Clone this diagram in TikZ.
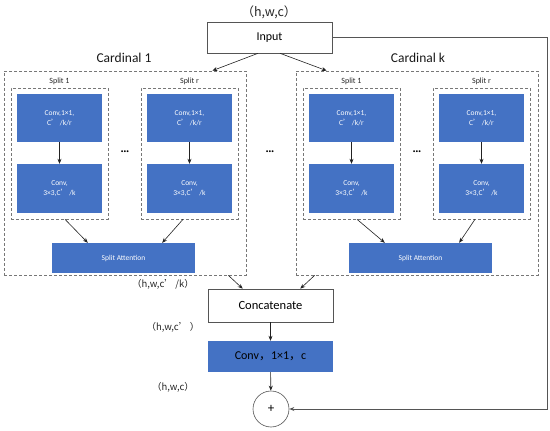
\documentclass[tikz,border=0pt]{standalone}
\usepackage{fontspec}
\setmainfont{Carlito}
\newfontfamily\cjk{Noto Sans CJK SC}
\usetikzlibrary{arrows.meta,calc}
\definecolor{myblue}{HTML}{4472C4}
\definecolor{edge}{HTML}{555555}
\definecolor{arr}{HTML}{222222}
\begin{document}
\begin{tikzpicture}[x=1pt,y=-1pt,
  bluebox/.style={fill=myblue,draw=none,text=white,font=\fontsize{7.5}{9.5}\selectfont,align=center,inner sep=0pt},
  whitebox/.style={draw=edge,fill=white,line width=0.6pt,inner sep=0pt},
  dbox/.style={draw=edge!80,dash pattern=on 3pt off 2pt,line width=0.6pt,inner sep=0pt},
  arrowline/.style={draw=arr,line width=0.6pt,-{Stealth[length=5pt,width=4pt]}},
  lbl/.style={font=\cjk\fontsize{9.5}{10}\selectfont,text=black!85,inner sep=0pt},
  slbl/.style={font=\fontsize{8}{9}\selectfont,text=black!85,inner sep=0pt},
  card/.style={font=\fontsize{13.5}{15}\selectfont,text=black!90,inner sep=0pt},
  dots/.style={font=\bfseries\fontsize{10}{10}\selectfont,inner sep=0pt}
]
\useasboundingbox (0,0) rectangle (550,431);
% top
\node[lbl,font=\cjk\fontsize{12.5}{13}\selectfont] (tin) at (269,12) {（h,w,c）};
\node[whitebox,minimum width=125pt,minimum height=31pt,font=\fontsize{12}{14}\selectfont] (input) at (269.5,37.5) {Input};
% cardinals
\node[dbox,minimum width=242pt,minimum height=204pt] (card1) at (125,173) {};
\node[dbox,minimum width=242pt,minimum height=204pt] (cardk) at (417,173) {};
\node[card] (c1lbl) at (124,58) {Cardinal 1};
\node[card] (cklbl) at (418,58) {Cardinal k};
% splits
\foreach \nm/\x/\t in {a/59.5/Split 1, b/189.5/Split r, c/351.5/Split 1, d/481.5/Split r}{
  \node[dbox,minimum width=97pt,minimum height=131pt] (s\nm) at (\x,153.5) {};
  \node[slbl] (l\nm) at (\x,81) {\t};
  \node[bluebox,minimum width=85pt,minimum height=48pt] (p\nm) at (\x,118) {Conv,1×1,\\C{\cjk ’}\,/k/r};
  \node[bluebox,minimum width=85pt,minimum height=49pt] (q\nm) at (\x,188.5) {Conv,\\3×3,C{\cjk ’}\,/k};
  \draw[arrowline] (p\nm) -- (q\nm);
}
\node[bluebox,minimum width=143pt,minimum height=30pt] (att1) at (123.5,258) {Split Attention};
\node[bluebox,minimum width=143pt,minimum height=30pt] (attk) at (420.5,258) {Split Attention};
\draw[arrowline] ($(sa.south)+(5.5,0)$) -- ($(att1.north west)+(36,0)$);
\draw[arrowline] ($(sb.south)+(-6.5,0)$) -- ($(att1.north east)+(-33,0)$);
\draw[arrowline] ($(sc.south)+(5.5,0)$) -- ($(attk.north west)+(36,0)$);
\draw[arrowline] ($(sd.south)+(-6.5,0)$) -- ($(attk.north east)+(-33,0)$);
% dots
\node[dots] (d1) at (125,153) {···};
\node[dots] (d2) at (270,153) {···};
\node[dots] (d3) at (417,153) {···};
% input arrows
\draw[arrowline] ($(input.south)+(-11.5,0)$) -- ($(card1.north east)+(-34,0)$);
\draw[arrowline] ($(input.south)+(10.5,0)$) -- ($(cardk.north west)+(31,0)$);
% bottom
\node[whitebox,minimum width=125pt,minimum height=33pt,font=\fontsize{12.5}{14}\selectfont] (concat) at (270.5,305.5) {Concatenate};
\node[bluebox,minimum width=125pt,minimum height=31pt,text=black,font=\fontsize{12}{13}\selectfont] (conv) at (270.5,356.5) {Conv{\cjk ，}1×1{\cjk ，}c};
\node[whitebox,circle,minimum size=36pt,font=\fontsize{13}{14}\selectfont] (plus) at (271,409) {+};
\draw[arrowline] ($(card1.south east)+(-18,0)$) -- ($(concat.north west)+(35,0)$);
\draw[arrowline] ($(cardk.south west)+(19,0)$) -- ($(concat.north east)+(-33,0)$);
\draw[arrowline] (concat) -- (conv);
\draw[arrowline] (conv) -- (plus);
\coordinate (r1) at (547,37.5);
\coordinate (r2) at (547,409);
\draw[arrowline,draw=edge,line width=0.8pt] (input.east) -- (r1) -- (r2) -- (plus.east);
% shape labels
\node[lbl] (t1) at (163,284) {（h,w,c’\,/k）};
\node[lbl] (t2) at (173,327) {（h,w,c’\,）};
\node[lbl] (t3) at (173,387) {（h,w,c）};
\end{tikzpicture}
\end{document}
